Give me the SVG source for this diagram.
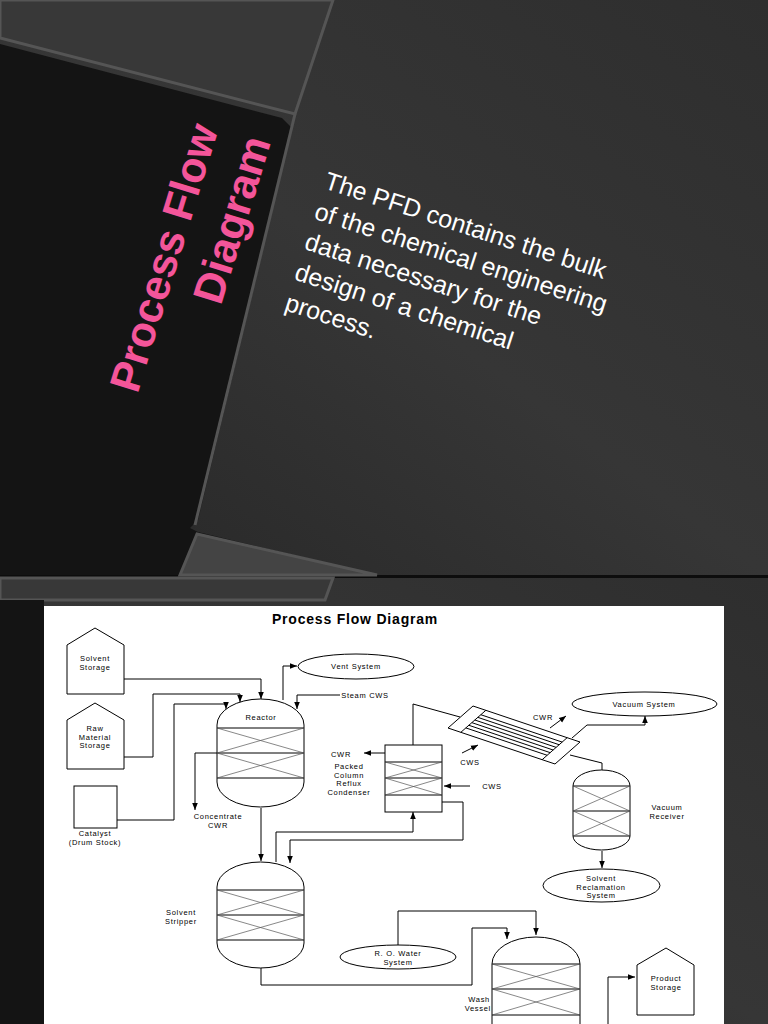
<svg xmlns="http://www.w3.org/2000/svg" width="768" height="1024" viewBox="0 0 768 1024">
<defs>
<linearGradient id="bg" x1="1" y1="0" x2="0" y2="1">
<stop offset="0" stop-color="#2e2e2e"/><stop offset="0.5" stop-color="#363636"/><stop offset="1" stop-color="#262626"/>
</linearGradient>
<marker id="ar" viewBox="0 0 10 10" refX="10" refY="5" markerWidth="7" markerHeight="7" orient="auto" markerUnits="userSpaceOnUse"><path d="M0,1 L10,5 L0,9 Z" fill="#000"/></marker>
<style>
.d{fill:none;stroke:#000;stroke-width:1}
.w{fill:#fff;stroke:#000;stroke-width:1}
.c{fill:none;stroke:#555;stroke-width:0.7}
.a{fill:none;stroke:#000;stroke-width:1;marker-end:url(#ar)}
.t{font-family:"Liberation Sans",Arial,sans-serif;font-size:7.5px;letter-spacing:0.7px;fill:#000;text-anchor:middle}
.r{text-anchor:end}
</style>
</defs>
<rect width="768" height="1024" fill="#0d0d0d"/>
<!-- top slide -->
<rect x="0" y="0" width="768" height="575" fill="url(#bg)"/>
<polygon points="0,0 333,0 295,114 0,38" fill="#383838" stroke="#555" stroke-width="3"/>
<polygon points="0,44 282,118 292,128 198,520 190,528 0,528" fill="#141414"/>
<polygon points="0,528 190,528 198,532 377,575 0,575" fill="#141414"/>
<polygon points="197,534 377,575 180,575" fill="#444" stroke="#555" stroke-width="3"/>
<line x1="295" y1="114" x2="195" y2="525" stroke="#555" stroke-width="3"/>
<g font-family="Liberation Sans,Arial,sans-serif" font-weight="bold" font-size="43" fill="#f4559a" text-anchor="middle">
<text transform="translate(178,262) rotate(-73)">Process Flow</text>
<text transform="translate(246,224) rotate(-73)">Diagram</text>
</g>
<text transform="translate(323,188) rotate(18)" font-family="Liberation Sans,Arial,sans-serif" font-size="25" fill="#fff">
<tspan x="0" y="0">The PFD contains the bulk</tspan>
<tspan x="0" dy="32">of the chemical engineering</tspan>
<tspan x="0" dy="32">data necessary for the</tspan>
<tspan x="0" dy="32">design of a chemical</tspan>
<tspan x="0" dy="32">process.</tspan>
</text>
<!-- bottom slide -->
<rect x="0" y="578" width="768" height="446" fill="url(#bg)"/>
<polygon points="0,578 333,578 325,600 0,600" fill="#383838" stroke="#555" stroke-width="3"/>
<rect x="0" y="600" width="44" height="424" fill="#141414"/>
<rect x="44" y="606" width="680" height="418" fill="#fff"/>
<text x="355" y="624" font-family="Liberation Sans,Arial,sans-serif" font-size="14" font-weight="bold" letter-spacing="0.8" text-anchor="middle">Process Flow Diagram</text>

<g id="connectors">
<polyline class="a" points="124,679 261,679 261,699"/>
<polyline class="a" points="124,757 153,757 153,694 240,694 240,702"/>
<polyline class="a" points="117,820 174,820 174,704 226,704 226,709"/>
<polyline class="a" points="283,700 283,666 297,666"/>
<polyline class="a" points="340,695 297,695 297,709"/>
<polyline class="a" points="217,753 195,753 195,810"/>
<polyline class="a" points="261,808 261,861"/>
<polyline class="d" points="413,745 413,704 460,717"/>
<polyline class="a" points="385,753 364,753"/>
<polyline class="a" points="470,786 444,786"/>
<polyline class="a" points="276,862 276,832 413,832 413,812"/>
<polyline class="a" points="442,802 463,802 463,840 290,840 290,863"/>
<polyline class="a" points="550,728 566,716"/>
<polyline class="a" points="462,753 478,745"/>
<polyline class="a" points="572,738 587,725 645,725 645,716"/>
<polyline class="d" points="570,755 602,763 602,770"/>
<polyline class="a" points="602,851 602,868"/>
<polyline class="a" points="398,945 398,911 536,911 536,935"/>
<polyline class="a" points="261,968 261,985 472,985 472,928 507,928 507,939"/>
<polyline class="a" points="608,1024 608,977 635,977"/>
</g>

<g id="solvent-storage"><polygon class="w" points="67,645 95,628 124,645 124,694 67,694"/>
<text class="t" x="95" y="661">Solvent</text><text class="t" x="95" y="669.5">Storage</text></g>
<g id="raw-material"><polygon class="w" points="67,720 95,703 124,720 124,769 67,769"/>
<text class="t" x="95" y="731">Raw</text><text class="t" x="95" y="739.5">Material</text><text class="t" x="95" y="748">Storage</text></g>
<g id="catalyst"><rect class="w" x="74" y="786" width="43" height="42"/>
<text class="t" x="95" y="836">Catalyst</text><text class="t" x="95" y="844.5">(Drum Stock)</text></g>
<g id="vent"><rect class="w" x="298" y="654" width="116" height="25" rx="58" ry="12.5"/><text class="t" x="356" y="669">Vent System</text></g>
<text class="t" x="365" y="698">Steam CWS</text>

<g id="reactor">
<path class="w" d="M217,725 A43.5,26 0 0 1 304,725 L304,782 A43.5,25 0 0 1 217,782 Z"/>
<path class="d" d="M217,728 H304 M217,753 H304 M217,778 H304"/>
<path class="c" d="M217,728 L304,753 M304,728 L217,753 M217,753 L304,778 M304,753 L217,778"/>
<text class="t" x="261" y="720">Reactor</text></g>
<text class="t" x="218" y="819">Concentrate</text><text class="t" x="218" y="827.5">CWR</text>

<g id="stripper">
<path class="w" d="M217,887 A43.5,25 0 0 1 304,887 L304,943 A43.5,25 0 0 1 217,943 Z"/>
<path class="d" d="M217,890 H304 M217,915 H304 M217,940 H304"/>
<path class="c" d="M217,890 L304,915 M304,890 L217,915 M217,915 L304,940 M304,915 L217,940"/>
<text class="t" x="181" y="915">Solvent</text><text class="t" x="181" y="923.5">Stripper</text></g>

<g id="packed-column">
<rect class="w" x="385" y="745" width="57" height="67"/>
<path class="d" d="M385,762 H442 M385,778 H442 M385,795 H442"/>
<path class="c" d="M385,762 L442,778 M442,762 L385,778 M385,778 L442,795 M442,778 L385,795"/>
<text class="t" x="341" y="757">CWR</text>
<text class="t" x="349" y="769">Packed</text><text class="t" x="349" y="777.5">Column</text><text class="t" x="349" y="786">Reflux</text><text class="t" x="349" y="794.5">Condenser</text>
<text class="t" x="492" y="789">CWS</text></g>

<g id="condenser" transform="matrix(107,36,-25,22,473,706)">
<g fill="none" stroke="#000" stroke-width="1">
<polygon points="0,0 1,0 1,1 0,1" fill="#fff" vector-effect="non-scaling-stroke"/>
<path d="M0.12,0 V1 M0.88,0 V1 M0.12,0.2 H0.88 M0.12,0.32 H0.88 M0.12,0.44 H0.88 M0.12,0.56 H0.88 M0.12,0.68 H0.88 M0.12,0.8 H0.88" vector-effect="non-scaling-stroke"/>
</g></g>
<text class="t" x="543" y="720">CWR</text><text class="t" x="470" y="765">CWS</text>

<g id="vacuum-system"><rect class="w" x="572" y="692" width="145" height="24" rx="72" ry="12"/><text class="t" x="644" y="707">Vacuum System</text></g>

<g id="vacuum-receiver">
<path class="w" d="M573,786 A28.5,16 0 0 1 630,786 L630,836 A28.5,14 0 0 1 573,836 Z"/>
<path class="d" d="M573,786 H630 M573,811 H630 M573,836 H630"/>
<path class="c" d="M573,786 L630,811 M630,786 L573,811 M573,811 L630,836 M630,811 L573,836"/>
<text class="t" x="667" y="810">Vacuum</text><text class="t" x="667" y="818.5">Receiver</text></g>

<g id="solvent-reclamation"><rect class="w" x="543" y="869" width="117" height="33" rx="58" ry="16.5"/>
<text class="t" x="601" y="881">Solvent</text><text class="t" x="601" y="889.5">Reclamation</text><text class="t" x="601" y="898">System</text></g>

<g id="ro-water"><rect class="w" x="340" y="945" width="116" height="24" rx="58" ry="12"/>
<text class="t" x="398" y="956">R. O. Water</text><text class="t" x="398" y="964.5">System</text></g>

<g id="wash-vessel">
<path class="w" d="M492,964 A44,27 0 0 1 580,964 L580,1030 L492,1030 Z"/>
<path class="d" d="M492,964 H580 M492,989 H580 M492,1015 H580"/>
<path class="c" d="M492,964 L580,989 M580,964 L492,989 M492,989 L580,1015 M580,989 L492,1015"/>
<text class="t r" x="490" y="1002">Wash</text><text class="t r" x="491" y="1010.5">Vessel</text></g>

<g id="product-storage"><polygon class="w" points="637,965 666,948 694,965 694,1015 637,1015"/>
<text class="t" x="666" y="981">Product</text><text class="t" x="666" y="989.5">Storage</text></g>
</svg>
